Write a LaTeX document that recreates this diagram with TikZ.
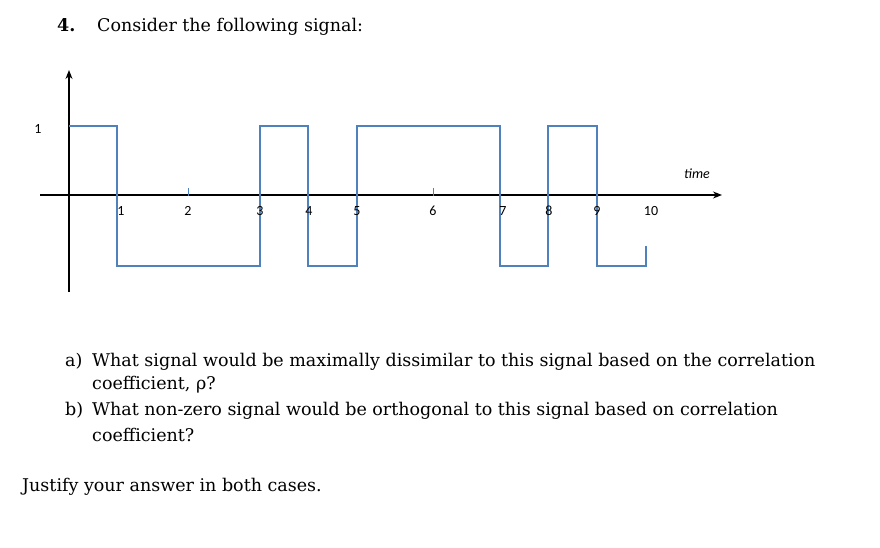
\documentclass[tikz,border=0pt]{standalone}
\usepackage{fontspec}
\setmainfont{DejaVu Serif}
\newfontfamily\lab{Carlito}
\usetikzlibrary{arrows.meta}
\begin{document}
\begin{tikzpicture}[x=1pt,y=-1pt,
  sig/.style={draw={rgb,255:red,79;green,129;blue,189},line width=1.5pt},
  ax/.style={draw=black,line width=1.3pt},
  txt/.style={anchor=base west,inner sep=0pt,font=\fontsize{17.5}{20}\selectfont},
  num/.style={font=\lab\fontsize{14}{16}\selectfont,inner sep=0pt}]
\useasboundingbox (0,0) rectangle (880,548);
\draw[ax,-{Stealth[length=9pt,width=7pt]}] (40,195) -- (722,195);
\draw[ax,-{Stealth[length=9pt,width=7pt]}] (69,292) -- (69,70);
\draw[sig] (69,126) -- (117,126) -- (117,266) -- (260,266) -- (260,126) -- (308,126) -- (308,266) -- (357,266) -- (357,126) -- (500,126) -- (500,266) -- (548,266) -- (548,126) -- (597,126) -- (597,266) -- (646,266) -- (646,246);
\draw[sig,line width=0.8pt] (188,188) -- (188,196);
\draw[sig,line width=0.8pt] (433,188) -- (433,196);
\node[num] (t1) at (121,211) {1};
\node[num] (t2) at (188,211) {2};
\node[num] (t3) at (260,211) {3};
\node[num] (t4) at (309,211) {4};
\node[num] (t5) at (357,211) {5};
\node[num] (t6) at (433,211) {6};
\node[num] (t7) at (503,211) {7};
\node[num] (t8) at (549,211) {8};
\node[num] (t9) at (597,211) {9};
\node[num] (t10) at (651,211) {10};
\node[num] (one) at (38,129) {1};
\node[num,font=\lab\itshape\fontsize{14}{16}\selectfont] (time) at (697,174) {time};
\node[txt,font=\bfseries\fontsize{17.5}{20}\selectfont] (q) at (57,32) {4.};
\node[txt] (c) at (97,32) {Consider the following signal:};
\node[txt] (a1) at (65,366) {a)};
\node[txt] (a2) at (92,366) {What signal would be maximally dissimilar to this signal based on the correlation};
\node[txt] (a3) at (92,389) {coefficient, ρ?};
\node[txt] (b1) at (65,415) {b)};
\node[txt] (b2) at (92,415) {What non-zero signal would be orthogonal to this signal based on correlation};
\node[txt] (b3) at (92,441) {coefficient?};
\node[txt] (j) at (22,491) {Justify your answer in both cases.};
\end{tikzpicture}
\end{document}
